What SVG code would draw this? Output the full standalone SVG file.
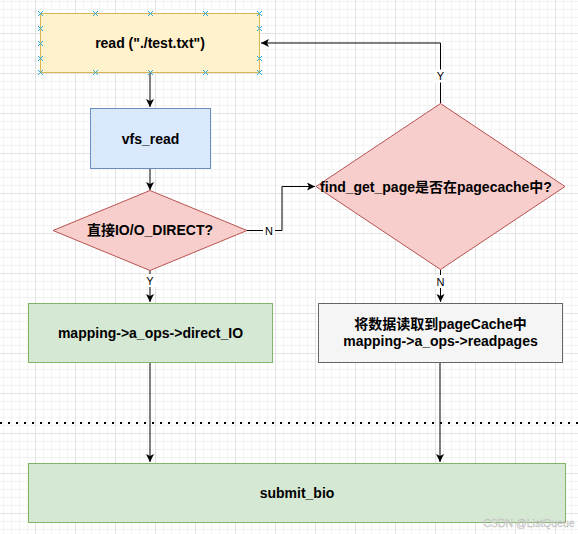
<svg xmlns="http://www.w3.org/2000/svg" width="578" height="534" viewBox="0 0 578 534">
<style>
.t{font-family:"Liberation Sans","Noto Sans CJK SC",sans-serif;font-weight:bold;font-size:14px;fill:#000;text-anchor:middle;dominant-baseline:central}
.lbl{font-family:"Liberation Sans",sans-serif;font-size:11px;fill:#000;text-anchor:middle;dominant-baseline:central}
.edge{fill:none;stroke:#000;stroke-width:1}
.cp{stroke:#29abe2;stroke-width:1;fill:none}
</style>
<defs>
<pattern id="grid" patternUnits="userSpaceOnUse" x="35" y="33" width="40" height="40">
<rect x="0" y="0" width="40" height="40" fill="#fff"/>
<g fill="#f3f3f3">
<rect x="8" y="0" width="1" height="40"/><rect x="16" y="0" width="1" height="40"/><rect x="24" y="0" width="1" height="40"/><rect x="32" y="0" width="1" height="40"/>
<rect x="0" y="8" width="40" height="1"/><rect x="0" y="16" width="40" height="1"/><rect x="0" y="24" width="40" height="1"/><rect x="0" y="32" width="40" height="1"/>
</g>
<g fill="#e3e3e3">
<rect x="0" y="0" width="1" height="40"/><rect x="0" y="0" width="40" height="1"/>
</g>
</pattern>
<marker id="arr" markerWidth="10" markerHeight="10" refX="8" refY="4" orient="auto" markerUnits="userSpaceOnUse">
<path d="M0,0 L8,4 L0,8 L2,4 Z" fill="#000"/>
</marker>
<path id="x" d="M-2.5,-2.5 L2.5,2.5 M-2.5,2.5 L2.5,-2.5"/>
</defs>
<rect width="578" height="534" fill="url(#grid)"/>

<line x1="0" y1="423" x2="578" y2="423" stroke="#000" stroke-width="2" stroke-dasharray="2 6"/>

<g id="connectors">
<line class="edge" x1="150" y1="73" x2="150" y2="107" marker-end="url(#arr)"/>
<line class="edge" x1="150" y1="168" x2="150" y2="190" marker-end="url(#arr)"/>
<path class="edge" d="M247,230.5 H282 V186.5 H315" marker-end="url(#arr)"/>
<rect x="263" y="224" width="12" height="13" fill="#fff"/>
<text class="lbl" x="269" y="231">N</text>
<line class="edge" x1="150" y1="270.5" x2="150" y2="302" marker-end="url(#arr)"/>
<rect x="144" y="274" width="12" height="13" fill="#fff"/>
<text class="lbl" x="150" y="280.5">Y</text>
<path class="edge" d="M440.5,103.5 V43 H261" marker-end="url(#arr)"/>
<rect x="434.5" y="69.5" width="12" height="13" fill="#fff"/>
<text class="lbl" x="440.5" y="76">Y</text>
<line class="edge" x1="440.5" y1="269.5" x2="440.5" y2="302" marker-end="url(#arr)"/>
<rect x="434.5" y="275" width="12" height="13" fill="#fff"/>
<text class="lbl" x="440.5" y="281.5">N</text>
<line class="edge" x1="150" y1="363" x2="150" y2="462" marker-end="url(#arr)"/>
<line class="edge" x1="440" y1="363" x2="440" y2="462" marker-end="url(#arr)"/>
</g>

<g id="read">
<rect x="40.5" y="13.5" width="219" height="59" fill="#fff2cc" stroke="#d6b656"/>
<text class="t" x="150" y="43">read ("./test.txt")</text>
<g class="cp">
<use href="#x" x="40.5" y="13.5"/><use href="#x" x="95.5" y="13.5"/><use href="#x" x="150.5" y="13.5"/><use href="#x" x="205.5" y="13.5"/><use href="#x" x="259.5" y="13.5"/>
<use href="#x" x="40.5" y="72.5"/><use href="#x" x="95.5" y="72.5"/><use href="#x" x="150.5" y="72.5"/><use href="#x" x="205.5" y="72.5"/><use href="#x" x="259.5" y="72.5"/>
<use href="#x" x="40.5" y="28.5"/><use href="#x" x="40.5" y="43.5"/><use href="#x" x="40.5" y="58.5"/>
<use href="#x" x="259.5" y="28.5"/><use href="#x" x="259.5" y="58.5"/>
</g>
</g>

<g id="vfs_read">
<rect x="90.5" y="108.5" width="120" height="60" fill="#dae8fc" stroke="#6c8ebf"/>
<text class="t" x="150.5" y="138.5">vfs_read</text>
</g>

<g id="direct_q">
<path d="M150,190.5 L247,230.5 L150,270.5 L53,230.5 Z" fill="#f8cecc" stroke="#b85450"/>
<text class="t" x="150" y="230">直接IO/O_DIRECT?</text>
</g>

<g id="cache_q">
<path d="M440.5,103.5 L565,186.5 L440.5,269.5 L316,186.5 Z" fill="#f8cecc" stroke="#b85450"/>
<text class="t" x="436" y="186.5">find_get_page是否在pagecache中?</text>
</g>

<g id="direct_io">
<rect x="28.5" y="303.5" width="244" height="59" fill="#d5e8d4" stroke="#82b366"/>
<text class="t" x="150.5" y="333">mapping-&gt;a_ops-&gt;direct_IO</text>
</g>

<g id="readpages">
<rect x="318.5" y="303.5" width="244" height="59" fill="#f5f5f5" stroke="#666666"/>
<text class="t" x="440.5" y="324" fill="#333">将数据读取到pageCache中</text>
<text class="t" x="440.5" y="341" fill="#333">mapping-&gt;a_ops-&gt;readpages</text>
</g>

<g id="submit_bio">
<rect x="28.5" y="463.5" width="537" height="59" fill="#d5e8d4" stroke="#82b366"/>
<text class="t" x="297" y="493">submit_bio</text>
</g>

<text x="529" y="523" font-family="Liberation Sans,sans-serif" font-size="10.5" fill="#d4d4d4" stroke="#bbbbbb" stroke-width="0.3" text-anchor="middle" dominant-baseline="central">CSDN @ListQueue</text>
</svg>
